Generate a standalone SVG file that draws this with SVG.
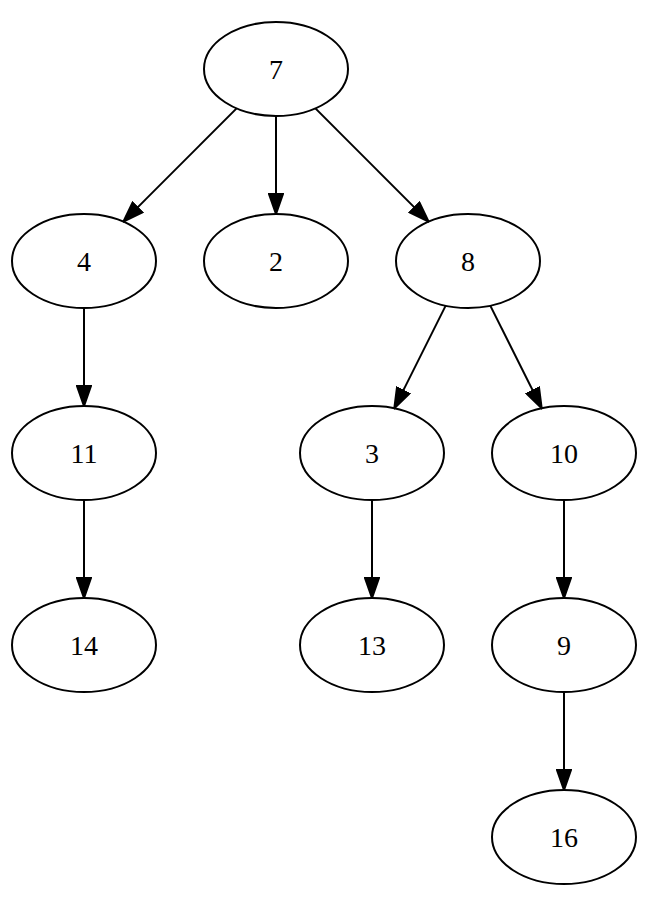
<svg xmlns="http://www.w3.org/2000/svg" width="666" height="902" viewBox="0 0 666 902">
<style>
ellipse{fill:none;stroke:#000;stroke-width:2}
text{font-family:"Liberation Serif","DejaVu Serif",serif;font-size:28px;text-anchor:middle;fill:#000}
line{stroke:#000;stroke-width:2;marker-end:url(#a)}
</style>
<defs><marker id="a" markerUnits="userSpaceOnUse" markerWidth="22" markerHeight="16" refX="20" refY="7" orient="auto" viewBox="-1 -1 22 16"><path d="M0,0L20,7L0,14z" fill="#000" stroke="#000" stroke-width="2"/></marker></defs>
<rect width="666" height="902" fill="#fff"/>
<g id="edges">
<line x1="236.6" y1="108.4" x2="123.4" y2="221.6"/>
<line x1="276" y1="116" x2="276" y2="214"/>
<line x1="315.4" y1="108.4" x2="428.6" y2="221.6"/>
<line x1="84" y1="308" x2="84" y2="406"/>
<line x1="445.7" y1="305.6" x2="394.3" y2="408.4"/>
<line x1="490.3" y1="305.6" x2="541.7" y2="408.4"/>
<line x1="84" y1="500" x2="84" y2="598"/>
<line x1="372" y1="500" x2="372" y2="598"/>
<line x1="564" y1="500" x2="564" y2="598"/>
<line x1="564" y1="692" x2="564" y2="790"/>
</g>
<g id="n7"><ellipse cx="276" cy="69" rx="72" ry="47"/><text x="276" y="79">7</text></g>
<g id="n4"><ellipse cx="84" cy="261" rx="72" ry="47"/><text x="84" y="271">4</text></g>
<g id="n2"><ellipse cx="276" cy="261" rx="72" ry="47"/><text x="276" y="271">2</text></g>
<g id="n8"><ellipse cx="468" cy="261" rx="72" ry="47"/><text x="468" y="271">8</text></g>
<g id="n11"><ellipse cx="84" cy="453" rx="72" ry="47"/><text x="84" y="463">11</text></g>
<g id="n3"><ellipse cx="372" cy="453" rx="72" ry="47"/><text x="372" y="463">3</text></g>
<g id="n10"><ellipse cx="564" cy="453" rx="72" ry="47"/><text x="564" y="463">10</text></g>
<g id="n14"><ellipse cx="84" cy="645" rx="72" ry="47"/><text x="84" y="655">14</text></g>
<g id="n13"><ellipse cx="372" cy="645" rx="72" ry="47"/><text x="372" y="655">13</text></g>
<g id="n9"><ellipse cx="564" cy="645" rx="72" ry="47"/><text x="564" y="655">9</text></g>
<g id="n16"><ellipse cx="564" cy="837" rx="72" ry="47"/><text x="564" y="847">16</text></g>
</svg>
